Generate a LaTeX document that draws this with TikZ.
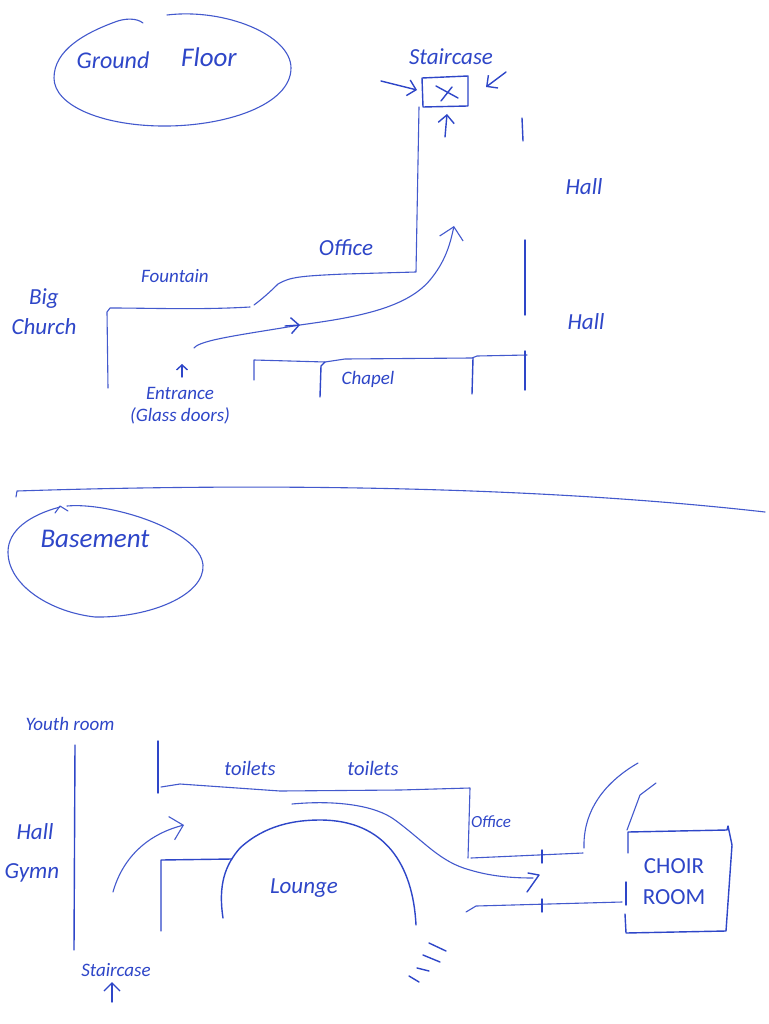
\documentclass[tikz,border=0pt]{standalone}
\usepackage{fontspec}
\setmainfont{Carlito}
\usetikzlibrary{arrows.meta}
\definecolor{pen}{HTML}{2E46C8}
\tikzset{
  inkline/.style={draw=pen,line width=1.4pt,line cap=round,line join=round},
  thinline/.style={draw=pen!90,line width=1.1pt,line cap=round,line join=round},
  bigarrow/.style={-{Straight Barb[length=12pt,width=24pt]}},
  midarrow/.style={-{Straight Barb[length=8pt,width=16pt]}},
  tinyarrow/.style={-{Straight Barb[length=5pt,width=11pt]}},
  lab/.style={text=pen,font=\itshape,inner sep=0pt,align=center},
  big/.style={lab,font=\itshape\fontsize{27}{29}\selectfont},
  ground/.style={lab,font=\itshape\fontsize{24}{26}\selectfont},
  mid/.style={lab,font=\itshape\fontsize{23}{25}\selectfont},
  toil/.style={lab,font=\itshape\fontsize{20.5}{22}\selectfont},
  small/.style={lab,font=\itshape\fontsize{19}{22}\selectfont},
  tiny/.style={lab,font=\itshape\fontsize{17}{20}\selectfont}
}
\begin{document}
\begin{tikzpicture}[x=1pt,y=-1pt]
\useasboundingbox[fill=white] (0,0) rectangle (768,1024);
% --- Ground floor
\draw[thinline] (143,23) .. controls (137,18) and (125,18) .. (115,22) .. controls (85,33) and (54,50) .. (54,78) .. controls (54,105) and (100,125) .. (160,126) .. controls (225,127) and (291,105) .. (291,68) .. controls (291,35) and (225,8) .. (167,15);
\node[ground] (gf) at (113,60) {Ground};
\node[big] (ff) at (209,57) {Floor};
\node[mid] (st) at (451,57) {Staircase};
\draw[inkline] (422,78) -- (468,76) -- (468,106) -- (423,107) -- cycle;
\draw[inkline] (436,86) -- (458,98);
\draw[inkline] (452,87) -- (441,101);
\coordinate (a1s) at (381,81); \coordinate (a1e) at (417,90);
\draw[inkline,midarrow] (a1s) -- (a1e);
\coordinate (a2s) at (506,72); \coordinate (a2e) at (486,87);
\draw[inkline,midarrow] (a2s) -- (a2e);
\coordinate (a3s) at (445,137); \coordinate (a3e) at (447,114);
\draw[inkline,midarrow] (a3s) -- (a3e);
\draw[thinline] (419,107) -- (416,272) -- (345,274) .. controls (300,276) and (290,277) .. (278,284) .. controls (270,292) and (262,299) .. (254,305);
\draw[thinline] (250,307) .. controls (200,310) and (150,308) .. (110,308) -- (107,312) -- (108,388);
\draw[inkline] (522,118) -- (523,141);
\draw[inkline] (525,240) -- (525,315);
\node[mid] (h1) at (584,187) {Hall};
\node[mid] (h2) at (586,322) {Hall};
\node[mid] (of) at (346,248) {Office};
\node[small] (fo) at (175,276) {Fountain};
\node[mid,text width=70pt] (bc) at (44,312) {Big\\[5pt]Church};
\draw[thinline,bigarrow] (194,348) .. controls (200,340) and (240,335) .. (300,325) .. controls (350,318) and (405,310) .. (430,280) .. controls (445,262) and (450,245) .. (454,226);
\draw[inkline,midarrow] (285,326) -- (300,325);
\coordinate (e1) at (182,377); \coordinate (e2) at (182,364);
\draw[inkline,tinyarrow] (e1) -- (e2);
\node[small] (en) at (180,406) {Entrance\\(Glass doors)};
\draw[thinline] (254,380) -- (254,360) -- (325,362) -- (345,359) -- (472,358) -- (477,356) -- (527,355);
\draw[inkline] (525,351) -- (525,390);
\draw[inkline] (320,397) -- (321,366) -- (325,362);
\draw[inkline] (473,358) -- (472,394);
\node[small] (ch) at (368,379) {Chapel};
% --- Divider
\draw[thinline] (16,497) -- (17,491) .. controls (200,485) and (500,482) .. (765,512);
% --- Basement
\draw[thinline] (55,513) -- (60,506) -- (68,511);
\draw[thinline] (67,506) .. controls (110,502) and (200,530) .. (203,565) .. controls (205,595) and (150,618) .. (95,617) .. controls (50,612) and (8,585) .. (8,552) .. controls (8,530) and (30,515) .. (60,507);
\node[big] (ba) at (95,539) {Basement};
\node[small] (yr) at (70,724) {Youth room};
\draw[inkline] (75,745) -- (74,950);
\node[mid] (hl) at (35,832) {Hall};
\node[mid] (gy) at (32,873) {Gymn};
\node[small] (sc) at (116,970) {Staircase};
\draw[inkline,midarrow] (112,1002) -- (112,982);
\draw[inkline] (158,741) -- (158,793);
\draw[thinline] (161,787) -- (180,784) -- (280,791) -- (400,790) -- (470,788) -- (468,858);
\node[toil] (t1) at (250,768) {toilets};
\node[toil] (t2) at (373,768) {toilets};
\node[tiny] (o2) at (491,822) {Office};
\draw[thinline,bigarrow] (113,892) .. controls (122,860) and (145,835) .. (184,825);
\draw[inkline] (161,931) -- (161,860) -- (232,859);
\draw[inkline] (223,918) .. controls (218,885) and (225,865) .. (240,848) .. controls (265,825) and (295,820) .. (320,820) .. controls (385,820) and (413,865) .. (416,925);
\node[mid] (lo) at (304,888) {Lounge};
\draw[thinline] (292,804) .. controls (335,800) and (375,805) .. (395,820) .. controls (425,842) and (440,862) .. (470,870) .. controls (490,876) and (510,878) .. (533,878);
\draw[inkline] (528,873) -- (539,875) -- (527,892);
\draw[thinline] (471,858) -- (583,853);
\draw[inkline] (542,850) -- (542,863);
\draw[thinline] (466,912) -- (476,906) -- (622,902);
\draw[inkline] (542,899) -- (542,912);
\draw[thinline] (584,848) .. controls (583,815) and (600,785) .. (638,763);
\draw[thinline] (627,830) -- (640,795) -- (656,783);
\draw[inkline] (628,853) -- (628,832) -- (727,830) -- (728,826) -- (732,845) -- (726,931) -- (626,933) -- (625,914);
\draw[inkline] (626,882) -- (626,905);
\node[lab,font=\fontsize{23}{31}\selectfont] (cr) at (674,882) {CHOIR\\ROOM};
\draw[inkline] (429,943) -- (446,951);
\draw[inkline] (423,955) -- (440,962);
\draw[inkline] (417,968) -- (429,971);
\draw[inkline] (409,976) -- (419,982);
\end{tikzpicture}
\end{document}
